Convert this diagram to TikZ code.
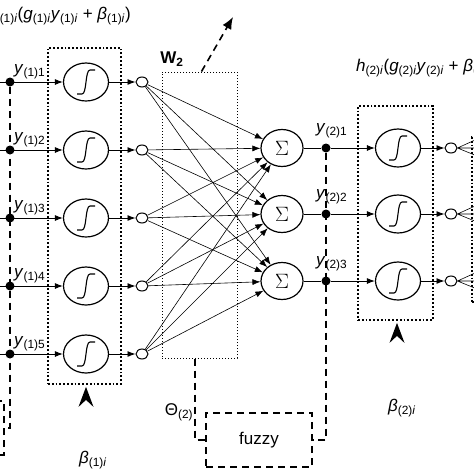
\documentclass[tikz,border=0pt]{standalone}
\usepackage{fontspec}
\setmainfont{Liberation Sans}
\usetikzlibrary{shapes.geometric,arrows.meta}

\begin{document}
\begin{tikzpicture}[x=1pt,y=-1pt,font=\fontsize{17}{20}\selectfont,
  sig/.style={draw,ellipse,line width=1.2pt,minimum width=45pt,minimum height=38pt,inner sep=0pt},
  sumn/.style={draw,ellipse,line width=1.2pt,minimum width=42pt,minimum height=37pt,inner sep=0pt,font=\fontsize{21}{21}\selectfont},
  outc/.style={draw,ellipse,line width=1pt,minimum width=12pt,minimum height=10pt,inner sep=0pt},
  dotn/.style={circle,fill,minimum size=9pt,inner sep=0pt},
  layerbox/.style={draw,line width=1.8pt,dotted,inner sep=0pt},
  wbox/.style={draw,line width=1pt,dotted,inner sep=0pt},
  dashln/.style={line width=1.6pt,dash pattern=on 7pt off 5pt},
  wire/.style={line width=0.9pt},
  fan/.style={line width=0.6pt},
  tip/.style={-{Latex[length=8pt,width=6pt]}}]
  \useasboundingbox (0,0) rectangle (474,474);
  \clip (0,0) rectangle (474,474);
  % formulas over the layers
  \node[anchor=east,inner sep=0pt] (f1) at (131,16) {\textit{h}\textsubscript{(1)\textit{i}}(\textit{g}\textsubscript{(1)\textit{i}}\textit{y}\textsubscript{(1)\textit{i}} + \textit{β}\textsubscript{(1)\textit{i}})};
  \node[anchor=west,inner sep=0pt] (f2) at (356,68) {\textit{h}\textsubscript{(2)\textit{i}}(\textit{g}\textsubscript{(2)\textit{i}}\textit{y}\textsubscript{(2)\textit{i}} + \textit{β}\textsubscript{(2)\textit{i}})};
  % boxes
  \node[layerbox,minimum width=73pt,minimum height=336pt] (l1) at (84.5,216) {};
  \node[wbox,minimum width=75pt,minimum height=286pt] (w2) at (199.5,215) {};
  \node[layerbox,minimum width=75pt,minimum height=214pt] (l2) at (395.5,213) {};
  \node[layerbox,minimum width=60pt,minimum height=165pt] (w3) at (502,219.5) {};
  \node (wl) at (172,59) {\bfseries W\textsubscript{2}};
  \coordinate (wout) at (233,17);
  \draw[dashln,-{Latex[length=12pt,width=10pt]}] ([xshift=2pt]w2.north) -- (wout);
  % first layer
  \foreach \n/\y in {1/82,2/150,3/218,4/286,5/354} {
    \coordinate (in\n) at (0,\y);
    \node[dotn] (a\n) at (10,\y) {};
    \node[sig] (s\n) at (86,\y) {};
    \node[outc] (o\n) at (142,\y) {};
    \draw[wire,tip] (in\n) -- (s\n);
    \draw[wire,tip] (s\n) -- (o\n);
    \draw[line width=1.1pt,shift={(s\n.center)}] (-9,12) -- (-4,12) .. controls (1,12) and (-1,-12) .. (4,-12) -- (9,-12);
    \node[anchor=south west,inner sep=0pt] (ya\n) at (14,\y-3) {\textit{y}\textsubscript{(1)\n}};
  }
  % sums and second layer
  \foreach \m/\y in {1/148,2/214,3/281} {
    \node[sumn] (m\m) at (282,\y) {$\Sigma$};
    \node[dotn] (b\m) at (326,\y) {};
    \node[sig] (t\m) at (398,\y) {};
    \node[outc] (p\m) at (451,\y) {};
    \draw[wire] (m\m) -- (b\m);
    \draw[wire,tip] (b\m) -- (t\m);
    \draw[wire,tip] (t\m) -- (p\m);
    \draw[line width=1.1pt,shift={(t\m.center)}] (-9,12) -- (-4,12) .. controls (1,12) and (-1,-12) .. (4,-12) -- (9,-12);
    \draw[fan] (p\m.east) -- ++(22,-10) (p\m.east) -- ++(22,0) (p\m.east) -- ++(22,9);
    \node[anchor=south west,inner sep=0pt] (yb\m) at (316,\y-10) {\textit{y}\textsubscript{(2)\m}};
  }
  \foreach \n in {1,...,5} \foreach \m in {1,2,3} \draw[fan,tip] (o\n) -- (m\m);
  % bias inputs
  \fill[shift={(l1.south)}] (1.5,2) -- (9,22) -- (1.5,15) -- (-6,22) -- cycle;
  \fill[shift={(l2.south)}] (1.5,2) -- (9,22) -- (1.5,15) -- (-6,22) -- cycle;
  \node (bt1) at (93,460) {\textit{β}\textsubscript{(1)\textit{i}}};
  \node (bt2) at (402,408) {\textit{β}\textsubscript{(2)\textit{i}}};
  % fuzzy blocks
  \node[draw,dashln,minimum width=106pt,minimum height=54pt] (fz) at (259,440) {fuzzy};
  \node[draw,dashln,minimum width=88pt,minimum height=54pt] (lf) at (-40,428) {};
  \draw[dashln] (a1) |- (lf.east);
  \draw[dashln] (b1) |- (fz.east);
  \draw[dashln] ([xshift=-4.5pt]w2.south) |- (fz.west);
  \node (th) at (179,412) {Θ\textsubscript{(2)}};
\end{tikzpicture}
\end{document}
